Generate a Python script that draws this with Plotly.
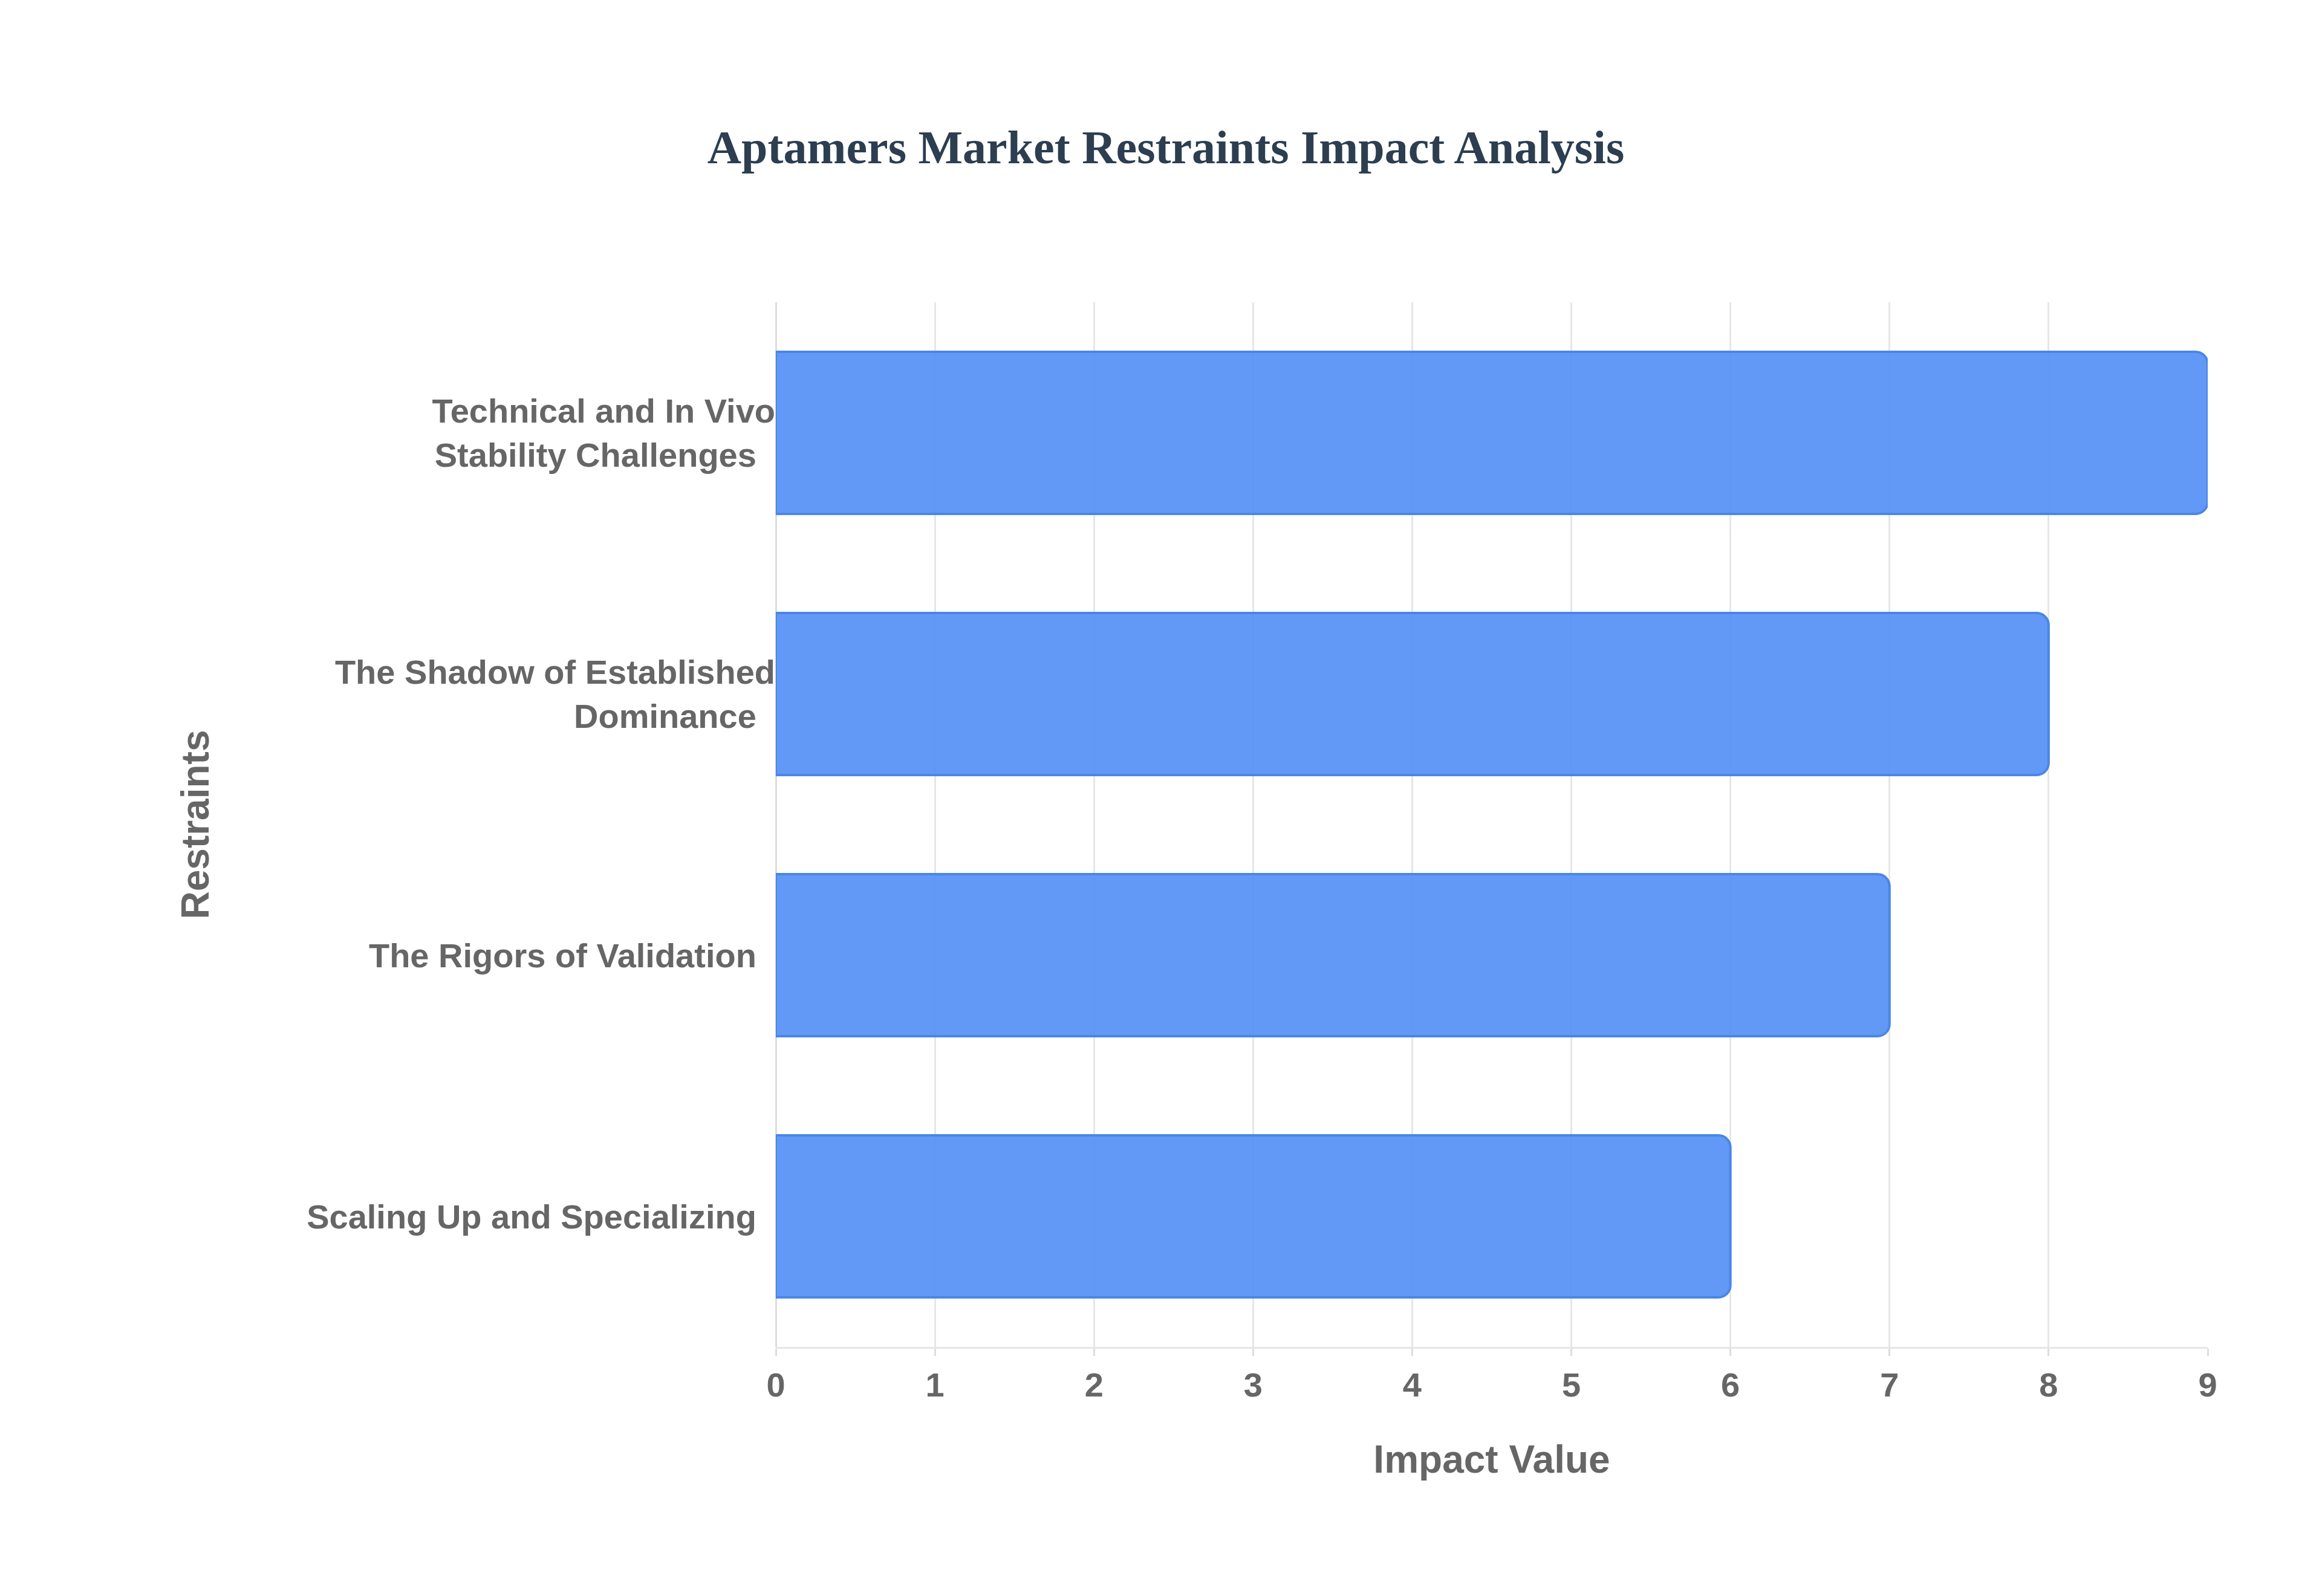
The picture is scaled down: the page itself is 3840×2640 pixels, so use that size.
import plotly.graph_objects as go

categories = ["Scaling Up and Specializing", "The Rigors of Validation",
              "The Shadow of Established<br>Dominance", "Technical and In Vivo<br>Stability Challenges"]
values = [6, 7, 8, 9]

fig = go.Figure(go.Bar(
    x=values, y=categories, orientation="h", width=0.62,
    marker=dict(color="rgba(86,144,245,0.92)", line=dict(color="#4a86e8", width=4), cornerradius=20),
))
fig.update_layout(
    width=3840, height=2640, paper_bgcolor="white", plot_bgcolor="white",
    margin=dict(l=1275, r=197, t=492, b=420),
    title=dict(text="<b>Aptamers Market Restraints Impact Analysis</b>", x=0.5, xanchor="center", y=0.911, yanchor="middle",
               font=dict(family="Liberation Serif", size=78, color="#2c3e50")),
    font=dict(family="Liberation Sans", color="#666666"),
    showlegend=False,
)
fig.update_xaxes(range=[0, 9], dtick=1, showgrid=True, gridcolor="#e6e6e6", gridwidth=3,
                 zeroline=True, zerolinecolor="#dddddd", zerolinewidth=3,
                 showline=True, linecolor="#e6e6e6", linewidth=3, ticks="outside", ticklen=12, tickcolor="#dddddd", tickwidth=3,
                 tickfont=dict(size=56, family="Liberation Sans", color="#666666"),
                 title=dict(text="<b>Impact Value</b>", font=dict(size=64, color="#666666"), standoff=70))
fig.update_yaxes(showgrid=False, ticksuffix="  ", automargin=False,
                 tickfont=dict(size=56, family="Liberation Sans", color="#666666"),
                 title=dict(text="<b>Restraints</b>", font=dict(size=64, color="#666666"), standoff=140))
fig.for_each_yaxis(lambda a: a.update(tickprefix="<b>", ticksuffix="</b>  "))
fig.update_xaxes(tickprefix="<b>", ticksuffix="</b>")
fig.write_html("out.html")
